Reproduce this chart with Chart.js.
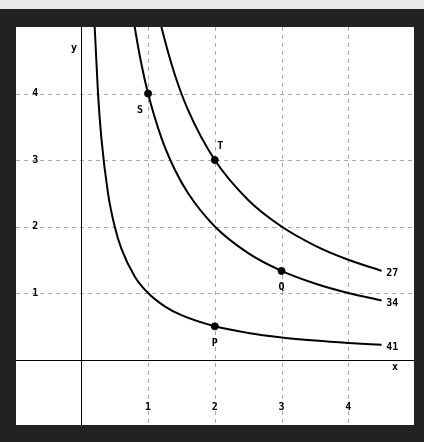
<!DOCTYPE html>
<html><head><meta charset="utf-8">
<script src="https://cdn.jsdelivr.net/npm/chart.js@4/dist/chart.umd.min.js"></script>
<style>
html,body{margin:0;padding:0;background:#222;width:424px;height:442px;overflow:hidden}
#bar{position:absolute;left:0;top:0;width:424px;height:9px;background:#e8e8e8}
#wrap{position:absolute;left:16px;top:27px;width:398px;height:398px;background:#fff;overflow:hidden}
</style></head><body>
<div id="bar"></div>
<div id="wrap"><canvas id="c" width="398" height="398"></canvas></div>
<script>
const curveNames=["41","34","27"];
const xA=[0.19,0.2,0.25,0.3,0.4,0.5,0.6,0.8,1,1.25,1.5,2,2.5,3,3.5,4,4.5];
const yA=[5.263,5,4,3.333,2.5,2,1.667,1.25,1,0.8,0.667,0.5,0.4,0.333,0.286,0.25,0.222];
const xB=[0.76,0.8,0.9,1,1.2,1.4,1.6,2,2.5,3,3.5,4,4.5];
const yB=[5.263,5,4.444,4,3.333,2.857,2.5,2,1.6,1.333,1.143,1,0.889];
const xC=[1.14,1.2,1.4,1.6,2,2.5,3,3.5,4,4.5];
const yC=[5.263,5,4.286,3.75,3,2.4,2,1.714,1.5,1.333];
const ptNames=["S","T","Q","P"];
const ptX=[1,2,3,2];
const ptY=[4,3,1.333,0.5];
const ticks=[1,2,3,4];
const toPts=(xs,ys)=>xs.map((x,i)=>({x,y:ys[i]}));
const lineDs=(d)=>({type:'line',data:d,borderColor:'#000',borderWidth:2,pointRadius:0,cubicInterpolationMode:'monotone',fill:false,clip:false});
const F='bold 10px "DejaVu Sans Mono", monospace';
const deco={id:'deco',beforeDatasetsDraw(ch){
  const c=ch.ctx,xs=ch.scales.x,ys=ch.scales.y;
  c.save();c.strokeStyle='#aaa';c.lineWidth=1;c.setLineDash([4,4]);
  ticks.forEach(t=>{const px=Math.round(xs.getPixelForValue(t))+0.5;c.beginPath();c.moveTo(px,0);c.lineTo(px,398);c.stroke();
    const py=Math.round(ys.getPixelForValue(t))+0.5;c.beginPath();c.moveTo(0,py);c.lineTo(398,py);c.stroke();});
  c.setLineDash([]);c.strokeStyle='#000';
  const x0=Math.round(xs.getPixelForValue(0))+0.5,y0=Math.round(ys.getPixelForValue(0))+0.5;
  c.beginPath();c.moveTo(x0,0);c.lineTo(x0,398);c.moveTo(0,y0);c.lineTo(398,y0);c.stroke();
  c.restore();
},afterDatasetsDraw(ch){
  const c=ch.ctx,xs=ch.scales.x,ys=ch.scales.y;
  c.save();c.font=F;c.fillStyle='#000';c.textAlign='center';c.textBaseline='middle';
  ticks.forEach(t=>{c.fillText(String(t),xs.getPixelForValue(t),ys.getPixelForValue(-0.72));
    c.fillText(String(t),xs.getPixelForValue(-0.69),ys.getPixelForValue(t));});
  c.fillText('x',xs.getPixelForValue(4.7),ys.getPixelForValue(-0.12));
  c.fillText('y',xs.getPixelForValue(-0.11),ys.getPixelForValue(4.68));
  const lp=[[0.88,3.75],[2.08,3.2],[3,1.08],[2,0.24]];
  ptNames.forEach((n,i)=>c.fillText(n,xs.getPixelForValue(lp[i][0]),ys.getPixelForValue(lp[i][1])));
  const ends=[[xA,yA],[xB,yB],[xC,yC]];
  c.textAlign='left';
  curveNames.forEach((n,i)=>{const e=ends[i];c.fillText(n,xs.getPixelForValue(e[0][e[0].length-1]+0.07),ys.getPixelForValue(e[1][e[1].length-1]-0.04));});
  c.restore();
}};
new Chart(document.getElementById('c'),{
  type:'scatter',
  data:{datasets:[lineDs(toPts(xA,yA)),lineDs(toPts(xB,yB)),lineDs(toPts(xC,yC)),
    {type:'scatter',data:toPts(ptX,ptY),pointRadius:3.5,backgroundColor:'#000',borderColor:'#000'}]},
  options:{responsive:false,animation:false,layout:{padding:0},
    plugins:{legend:{display:false},tooltip:{enabled:false}},
    scales:{x:{type:'linear',min:-0.904,max:4.91,display:false},y:{type:'linear',min:-0.909,max:4.925,display:false}}},
  plugins:[deco]
});
</script></body></html>
